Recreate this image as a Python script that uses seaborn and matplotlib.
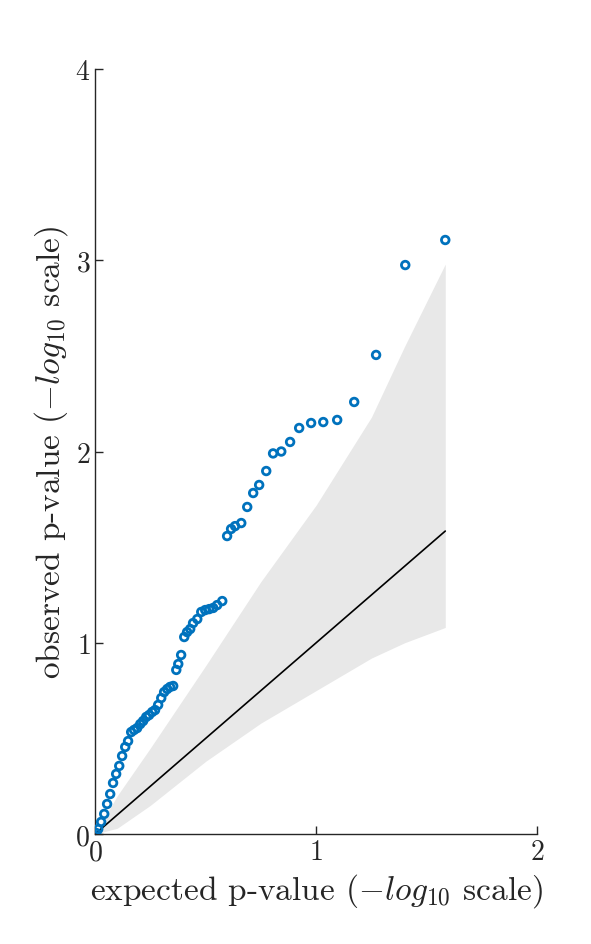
import numpy as np
import pandas as pd
import seaborn as sb
import matplotlib.pyplot as plt

sb.set_style('white')
plt.rcParams['font.family'] = ['cmr10', 'DejaVu Serif']
plt.rcParams['mathtext.fontset'] = 'cm'
plt.rcParams['axes.formatter.use_mathtext'] = True
plt.rcParams['xtick.bottom'] = True
plt.rcParams['ytick.left'] = True

expected = [1.584, 1.403, 1.271, 1.172, 1.095, 1.032, 0.977, 0.923, 0.882, 0.842, 0.805,
            0.774, 0.742, 0.715, 0.688, 0.661, 0.633, 0.615, 0.597, 0.575, 0.552, 0.534,
            0.516, 0.498, 0.480, 0.462, 0.443, 0.430, 0.416, 0.403, 0.389, 0.376, 0.367,
            0.353, 0.339, 0.326, 0.312, 0.299, 0.285, 0.271, 0.258, 0.244, 0.231, 0.217,
            0.204, 0.190, 0.176, 0.163, 0.149, 0.136, 0.122, 0.109, 0.095, 0.081, 0.068,
            0.054, 0.041, 0.027, 0.014, 0.005]
observed = [3.106, 2.975, 2.505, 2.259, 2.165, 2.154, 2.149, 2.123, 2.050, 2.000, 1.990,
            1.898, 1.825, 1.783, 1.710, 1.626, 1.610, 1.595, 1.558, 1.218, 1.197, 1.182,
            1.176, 1.171, 1.161, 1.124, 1.103, 1.072, 1.056, 1.030, 0.936, 0.889, 0.858,
            0.774, 0.769, 0.758, 0.742, 0.711, 0.675, 0.648, 0.638, 0.622, 0.612, 0.591,
            0.575, 0.554, 0.544, 0.533, 0.486, 0.455, 0.408, 0.356, 0.314, 0.267, 0.209,
            0.157, 0.105, 0.063, 0.026, 0.005]

band_x = [0.0, 0.1, 0.25, 0.5, 0.75, 1.0, 1.25, 1.4, 1.584]
band_upper = [0.0, 0.2, 0.45, 0.88, 1.32, 1.72, 2.18, 2.55, 2.98]
band_lower = [0.0, 0.03, 0.15, 0.38, 0.58, 0.75, 0.92, 1.0, 1.08]

df = pd.DataFrame({'expected': expected, 'observed': observed})

fig = plt.figure(figsize=(5.91, 9.45), dpi=100)
ax = fig.add_axes([0.161, 0.1164, 0.748, 0.8095])

ax.fill_between(band_x, band_lower, band_upper, color='#e8e8e8', lw=0)
ax.plot([0, 1.584], [0, 1.584], color='black', lw=1.2)
sb.scatterplot(data=df, x='expected', y='observed', ax=ax, marker='o', s=30,
               facecolor='none', edgecolor='#0072BD', linewidth=2, zorder=3)

ax.set_xlim(0, 2)
ax.set_ylim(0, 4)
ax.set_xticks([0, 1, 2])
ax.set_yticks([0, 1, 2, 3, 4])
sb.despine(ax=ax)
for s in ['left', 'bottom']:
    ax.spines[s].set_color('#262626')
    ax.spines[s].set_linewidth(1)
ax.tick_params(direction='in', length=6, width=1, labelsize=20, colors='#262626')
ax.set_xlabel('expected p-value ($-log_{10}$ scale)', fontsize=24, color='#262626')
ax.set_ylabel('observed p-value ($-log_{10}$ scale)', fontsize=24, color='#262626')

fig.savefig('out.png', dpi=100)
